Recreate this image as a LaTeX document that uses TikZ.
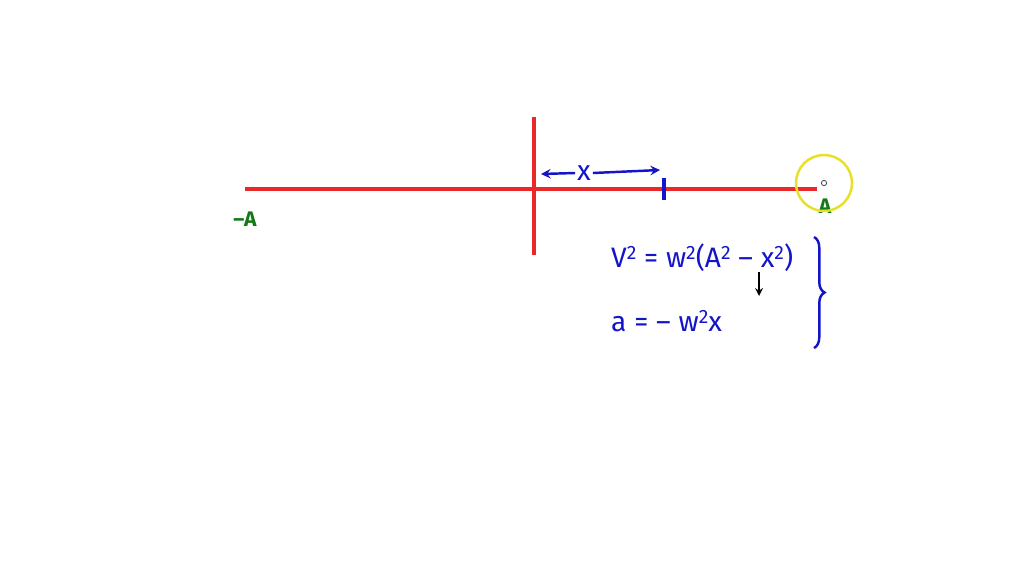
\documentclass[tikz,border=0pt]{standalone}
\usepackage{fontspec}
\setsansfont{Fira Sans}
\usepackage{tikz}
\usetikzlibrary{arrows,decorations.pathreplacing}

\definecolor{axisred}{RGB}{235,40,40}
\definecolor{inkblue}{RGB}{20,20,200}
\definecolor{inkgreen}{RGB}{20,120,20}
\definecolor{hiyellow}{RGB}{230,225,40}

\newcommand{\sqr}{\raisebox{0.55ex}{\fontsize{11}{12}\selectfont 2}}

\tikzset{
    axis/.style={draw=axisred, line width=2.2pt},
    ink/.style={text=inkblue, font=\sffamily\fontsize{16}{18}\selectfont},
    endlabel/.style={text=inkgreen, font=\sffamily\bfseries\fontsize{12}{14}\selectfont},
    pen/.style={draw=inkblue, line width=1.4pt}
}

\begin{document}
\begin{tikzpicture}[x=0.02cm,y=-0.02cm]
    \useasboundingbox (0,0) rectangle (1024,576);

    \coordinate (left) at (245,189);
    \coordinate (right) at (817,189);
    \coordinate (top) at (534,117);
    \coordinate (bottom) at (534,255);
    \draw[axis] (left) -- (right);
    \draw[axis] (top) -- (bottom);

    \node[endlabel] (minusA) at (245,219) {–A};
    \node[endlabel] (plusA) at (825,206) {A};

    \draw[draw=hiyellow, line width=1.4pt] (824,183) circle (28);
    \node[circle, draw=black!70, inner sep=0pt, minimum size=3pt, line width=0.5pt] (dot) at (824,183) {};

    \node[ink, inner sep=1pt] (x) at (584,173) {x};
    \coordinate (xstart) at (541,174);
    \coordinate (xend) at (660,170);
    \draw[pen,-stealth] (x.west) -- (xstart);
    \draw[pen,-stealth] (x.east) -- (xend);
    \coordinate (ticktop) at (664,178);
    \coordinate (tickbot) at (664,200);
    \draw[draw=inkblue, line width=2.2pt] (ticktop) -- (tickbot);

    \node[ink, anchor=west] (vel) at (605,258) {V\sqr\;=\;w\sqr(A\sqr\;–\;x\sqr)};
    \node[ink, anchor=west] (acc) at (605,321) {a\;=\;–\;w\sqr x};
    \coordinate (down1) at (759,272);
    \coordinate (down2) at (759,296);
    \draw[line width=1pt,-stealth] (down1) -- (down2);

    \coordinate (bracetop) at (814,237);
    \coordinate (bracebot) at (814,348);
    \draw[pen, decorate, decoration={brace, amplitude=6pt}] (bracetop) -- (bracebot);
\end{tikzpicture}
\end{document}
